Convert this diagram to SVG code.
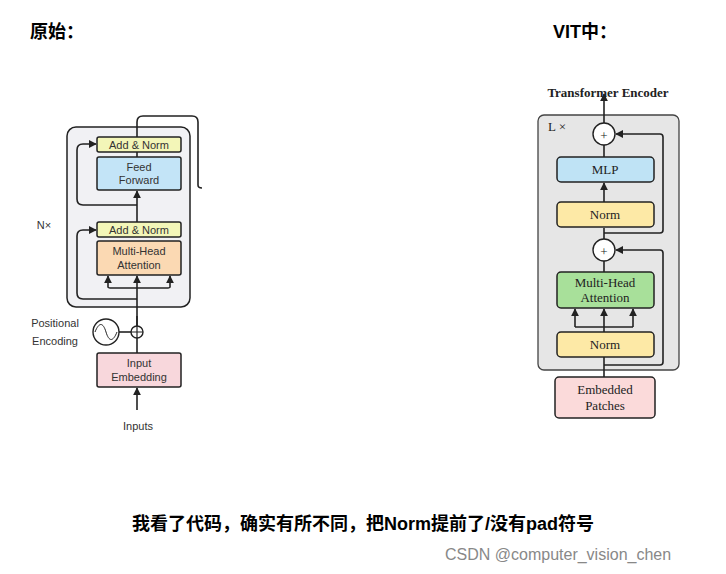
<svg xmlns="http://www.w3.org/2000/svg" width="726" height="574" viewBox="0 0 726 574">
<style>
.s{font-family:"Liberation Sans",Arial,sans-serif;font-size:11px;fill:#333;text-anchor:middle}
.t{font-family:"Liberation Serif","Times New Roman",serif;font-size:13px;fill:#222;text-anchor:middle}
.h{font-family:"Liberation Sans","Noto Sans CJK SC",sans-serif;font-weight:bold;fill:#000}
.b{stroke:#222;stroke-width:1.5}
.l{fill:none;stroke:#222;stroke-width:1.6}
</style>
<defs><marker id="a" viewBox="0 0 10 10" refX="9" refY="5" markerWidth="5" markerHeight="5" orient="auto"><path d="M0,0L10,5L0,10z" fill="#222"/></marker></defs>
<rect width="726" height="574" fill="#fff"/>
<text class="h" x="30" y="38" font-size="18">原始：</text>
<text class="h" x="553" y="38" font-size="18">VIT中：</text>
<g id="left-box"><rect x="67" y="127" width="123" height="180" rx="9" fill="#f1f1f4" stroke="#222" stroke-width="1.5"/><text class="s" x="44" y="229">N×</text></g>
<g id="connectors-left">
<path class="l" d="M137,387V316"/>
<path class="l" d="M137,326V276" marker-end="url(#a)"/>
<path class="l" d="M137,236V191" marker-end="url(#a)"/>
<path class="l" d="M137,157V152"/>
<path class="l" d="M137,137V122Q137,116 143,116H192Q198,116 198,122V185Q198,188 202,188"/>
<path class="l" d="M137,299H83Q77,299 77,293V236Q77,230 83,230H96" marker-end="url(#a)"/>
<path class="l" d="M137,205H83Q77,205 77,199V150Q77,144 83,144H96" marker-end="url(#a)"/>
<path class="l" d="M108,287V276" marker-end="url(#a)"/>
<path class="l" d="M170,287V276" marker-end="url(#a)"/>
<path class="l" d="M108,287Q108,288 112,288H166Q170,288 170,287"/>
<path class="l" d="M119,332H131"/>
<path class="l" d="M137,410V388" marker-end="url(#a)"/>
</g>
<g id="addnorm2"><rect class="b" x="97" y="137" width="84" height="15" rx="2" fill="#f3f6b8"/><text class="s" x="139" y="148.5">Add &amp; Norm</text></g>
<g id="ff"><rect class="b" x="97" y="157" width="84" height="33" rx="2" fill="#c3e4f7"/><text class="s" x="139" y="171">Feed</text><text class="s" x="139" y="184">Forward</text></g>
<g id="addnorm1"><rect class="b" x="97" y="222" width="84" height="15" rx="2" fill="#f3f6b8"/><text class="s" x="139" y="233.5">Add &amp; Norm</text></g>
<g id="mha"><rect class="b" x="97" y="241" width="84" height="34" rx="2" fill="#fbd9b3"/><text class="s" x="139" y="255">Multi-Head</text><text class="s" x="139" y="269">Attention</text></g>
<g id="plus-l"><circle cx="137" cy="332" r="6" fill="#fff" stroke="#222" stroke-width="1.4"/><path d="M131,332H143M137,326V338" stroke="#222" stroke-width="1.2"/></g>
<g id="pe"><circle cx="106" cy="332" r="13" fill="#fff" stroke="#222" stroke-width="1.4"/><path d="M95,332C99,322 103,322 106,332S113,342 117,332" fill="none" stroke="#222"/><text class="s" x="55" y="327" font-size="12">Positional</text><text class="s" x="55" y="345" font-size="12">Encoding</text></g>
<g id="ie"><rect class="b" x="97" y="353" width="84" height="34" rx="2" fill="#f8d7dc"/><text class="s" x="139" y="367">Input</text><text class="s" x="139" y="381">Embedding</text></g>
<g id="inputs"><text class="s" x="138" y="430" font-size="12">Inputs</text></g>

<text class="t" x="608" y="97" font-weight="bold" font-size="14">Transformer Encoder</text>
<g id="right-box"><rect x="538" y="115" width="141" height="255" rx="6" fill="#e6e6e6" stroke="#444" stroke-width="1.3"/><text class="t" x="557" y="131" font-size="12">L ×</text></g>
<g id="connectors-right">
<path class="l" d="M604,377V339" marker-end="url(#a)"/>
<path class="l" d="M604,332V309" marker-end="url(#a)"/>
<path class="l" d="M575,327V309" marker-end="url(#a)"/>
<path class="l" d="M633,327V309" marker-end="url(#a)"/>
<path class="l" d="M575,327H633"/>
<path class="l" d="M604,272V261"/>
<path class="l" d="M604,239V228"/>
<path class="l" d="M604,202V183" marker-end="url(#a)"/>
<path class="l" d="M604,157V145"/>
<path class="l" d="M604,123V94" marker-end="url(#a)"/>
<path class="l" d="M604,365H660Q663,365 663,362V253Q663,250 660,250H616" marker-end="url(#a)"/>
<path class="l" d="M604,233H660Q663,233 663,230V137Q663,134 660,134H616" marker-end="url(#a)"/>
</g>
<g id="plus2"><circle cx="604" cy="134" r="11" fill="#fff" stroke="#222" stroke-width="1.4"/><text class="t" x="604" y="140" font-size="17">+</text></g>
<g id="mlp"><rect class="b" x="557" y="157" width="97" height="25" rx="4" fill="#bfe3f5"/><text class="t" x="605" y="174">MLP</text></g>
<g id="norm2"><rect class="b" x="557" y="202" width="97" height="25" rx="4" fill="#fde9a6"/><text class="t" x="605" y="219">Norm</text></g>
<g id="plus1"><circle cx="604" cy="250" r="11" fill="#fff" stroke="#222" stroke-width="1.4"/><text class="t" x="604" y="256" font-size="17">+</text></g>
<g id="mha-r"><rect class="b" x="557" y="272" width="97" height="36" rx="4" fill="#a8e09a"/><text class="t" x="605" y="287">Multi-Head</text><text class="t" x="605" y="302">Attention</text></g>
<g id="norm1"><rect class="b" x="557" y="332" width="97" height="25" rx="4" fill="#fde9a6"/><text class="t" x="605" y="349">Norm</text></g>
<g id="ep"><rect class="b" x="555" y="377" width="100" height="41" rx="4" fill="#fbdada"/><text class="t" x="605" y="394">Embedded</text><text class="t" x="605" y="410">Patches</text></g>

<text class="h" x="363" y="530" font-size="18" text-anchor="middle">我看了代码，确实有所不同，把Norm提前了/没有pad符号</text>
<text x="445" y="560" font-family="Liberation Sans,sans-serif" font-size="16" fill="#888">CSDN @computer_vision_chen</text>
</svg>
